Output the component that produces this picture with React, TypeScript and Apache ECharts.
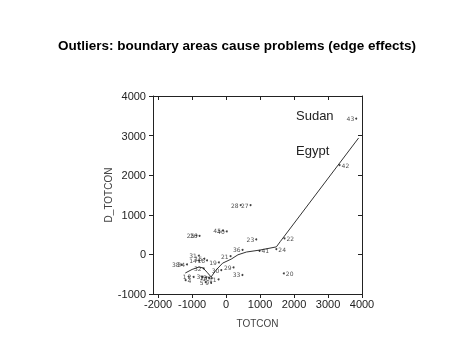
import React, { useEffect, useRef } from "react";
import * as echarts from "echarts";

const xTicks = [-2000, -1000, 0, 1000, 2000, 3000, 4000];
const yTicks = [-1000, 0, 1000, 2000, 3000, 4000];

const pointLabel = ["43", "42", "22", "24", "20", "41", "23", "27", "28", "36", "21", "29", "33", "40", "45", "26", "25", "31", "14", "15", "16", "19", "34", "38", "32", "30", "1", "2", "4", "3", "7", "13", "10", "11", "5", "9"];
const pointX = [3830, 3340, 1720, 1480, 1700, 985, 888, 720, 430, 485, 132, 220, 480, 20, -90, -780, -870, -800, -800, -640, -560, -212, -1150, -1310, -660, -141, -1100, -955, -1190, -700, -590, -500, -420, -220, -600, -440];
const pointY = [3430, 2255, 404, 134, -480, 91, 379, 1245, 1245, 115, -45, -328, -520, 580, 600, 470, 480, -30, -160, -110, -150, -202, -253, -260, -353, -396, -560, -570, -650, -570, -580, -590, -600, -630, -700, -720];
const labelSide = ["left", "right", "right", "right", "right", "right", "left", "left", "left", "left", "left", "left", "left", "left", "left", "left", "left", "left", "left", "left", "left", "left", "left", "left", "left", "left", "left", "left", "right", "left", "left", "left", "left", "left", "left", "left"];

const lineX = [-1200, -1000, -800, -680, -560, -440, -300, -100, 150, 350, 600, 1000, 1480, 1600, 3900];
const lineY = [-470, -380, -320, -340, -450, -570, -400, -220, -120, -10, 60, 110, 190, 330, 2940];

const annotations = [
  { text: "Sudan", x: 296, y: 117 },
  { text: "Egypt", x: 296, y: 152 },
];

export default function App() {
  const ref = useRef<HTMLDivElement>(null);
  useEffect(() => {
    if (!ref.current) return;
    const chart = echarts.init(ref.current, undefined, { renderer: "svg" });
    const axisFont = { fontFamily: "Liberation Sans, Arial, sans-serif", fontSize: 11, color: "#222" };
    const pointLabelStyle = {
      show: true,
      distance: 1,
      fontFamily: "DejaVu Sans, sans-serif",
      fontSize: 6,
      color: "#222",
    };
    const scatterData = pointX.map((x, i) => ({
      value: [x, pointY[i]],
      name: pointLabel[i],
      itemStyle: { color: "#111" },
      label: { ...pointLabelStyle, position: labelSide[i] },
    }));
    chart.setOption({
      animation: false,
      backgroundColor: "#ffffff",
      title: {
        text: "Outliers: boundary areas cause problems (edge effects)",
        left: "center",
        top: 33,
        textStyle: { fontFamily: "Liberation Sans, Arial, sans-serif", fontSize: 13.5, fontWeight: "bold", color: "#000" },
      },
      grid: { left: 153, right: 112, top: 96, bottom: 61 },
      xAxis: [
        {
          type: "value",
          min: -2150,
          max: 4000,
          name: "TOTCON",
          nameLocation: "middle",
          nameGap: 24,
          nameTextStyle: { fontFamily: "Liberation Sans, Arial, sans-serif", fontSize: 10, color: "#444" },
          axisLine: { onZero: false, lineStyle: { color: "#222", width: 1 } },
          axisTick: { show: true, customValues: xTicks, length: 4, inside: false, lineStyle: { color: "#222" } },
          axisLabel: { customValues: xTicks, margin: 4, ...axisFont, formatter: (v: number) => (v < 0 ? "-" + Math.abs(v) : String(v)) },
          splitLine: { show: false },
        },
        {
          type: "value",
          position: "top",
          min: -2150,
          max: 4000,
          axisLine: { onZero: false, lineStyle: { color: "#222", width: 1 } },
          axisTick: { show: true, customValues: xTicks, length: 4, inside: true, lineStyle: { color: "#222" } },
          axisLabel: { show: false },
          splitLine: { show: false },
        },
      ],
      yAxis: [
        {
          type: "value",
          min: -1000,
          max: 4000,
          interval: 1000,
          name: "D_TOTCON",
          nameLocation: "middle",
          nameGap: 37,
          nameRotate: 90,
          nameTextStyle: { fontFamily: "Liberation Sans, Arial, sans-serif", fontSize: 10, color: "#444" },
          axisLine: { show: true, onZero: false, lineStyle: { color: "#222", width: 1 } },
          axisTick: { show: true, length: 4, inside: false, lineStyle: { color: "#222" } },
          axisLabel: { margin: 7, ...axisFont, formatter: (v: number) => (v < 0 ? "-" + Math.abs(v) : String(v)) },
          splitLine: { show: false },
        },
        {
          type: "value",
          position: "right",
          min: -1000,
          max: 4000,
          interval: 1000,
          axisLine: { show: true, onZero: false, lineStyle: { color: "#222", width: 1 } },
          axisTick: { show: true, length: 4, inside: true, lineStyle: { color: "#222" } },
          axisLabel: { show: false },
          splitLine: { show: false },
        },
      ],
      series: [
        {
          type: "line",
          data: lineX.map((x, i) => [x, lineY[i]]),
          showSymbol: false,
          symbol: "none",
          lineStyle: { color: "#333", width: 1 },
          z: 2,
        },
        {
          type: "scatter",
          data: scatterData,
          symbol: "circle",
          symbolSize: 2,
          itemStyle: { color: "#111" },
          label: { ...pointLabelStyle, formatter: (p: any) => p.name },
          z: 3,
        },
      ],
      graphic: annotations.map((a) => ({
        type: "text",
        left: a.x,
        top: a.y - 8,
        style: { text: a.text, fontFamily: "Liberation Sans, Arial, sans-serif", fontSize: 13, fill: "#222" },
      })),
    });
    return () => chart.dispose();
  }, []);
  return (
    <div
      ref={ref}
      style={{ position: "fixed", left: 0, top: 0, width: 474, height: 355, willChange: "transform", background: "#fff" }}
    />
  );
}
